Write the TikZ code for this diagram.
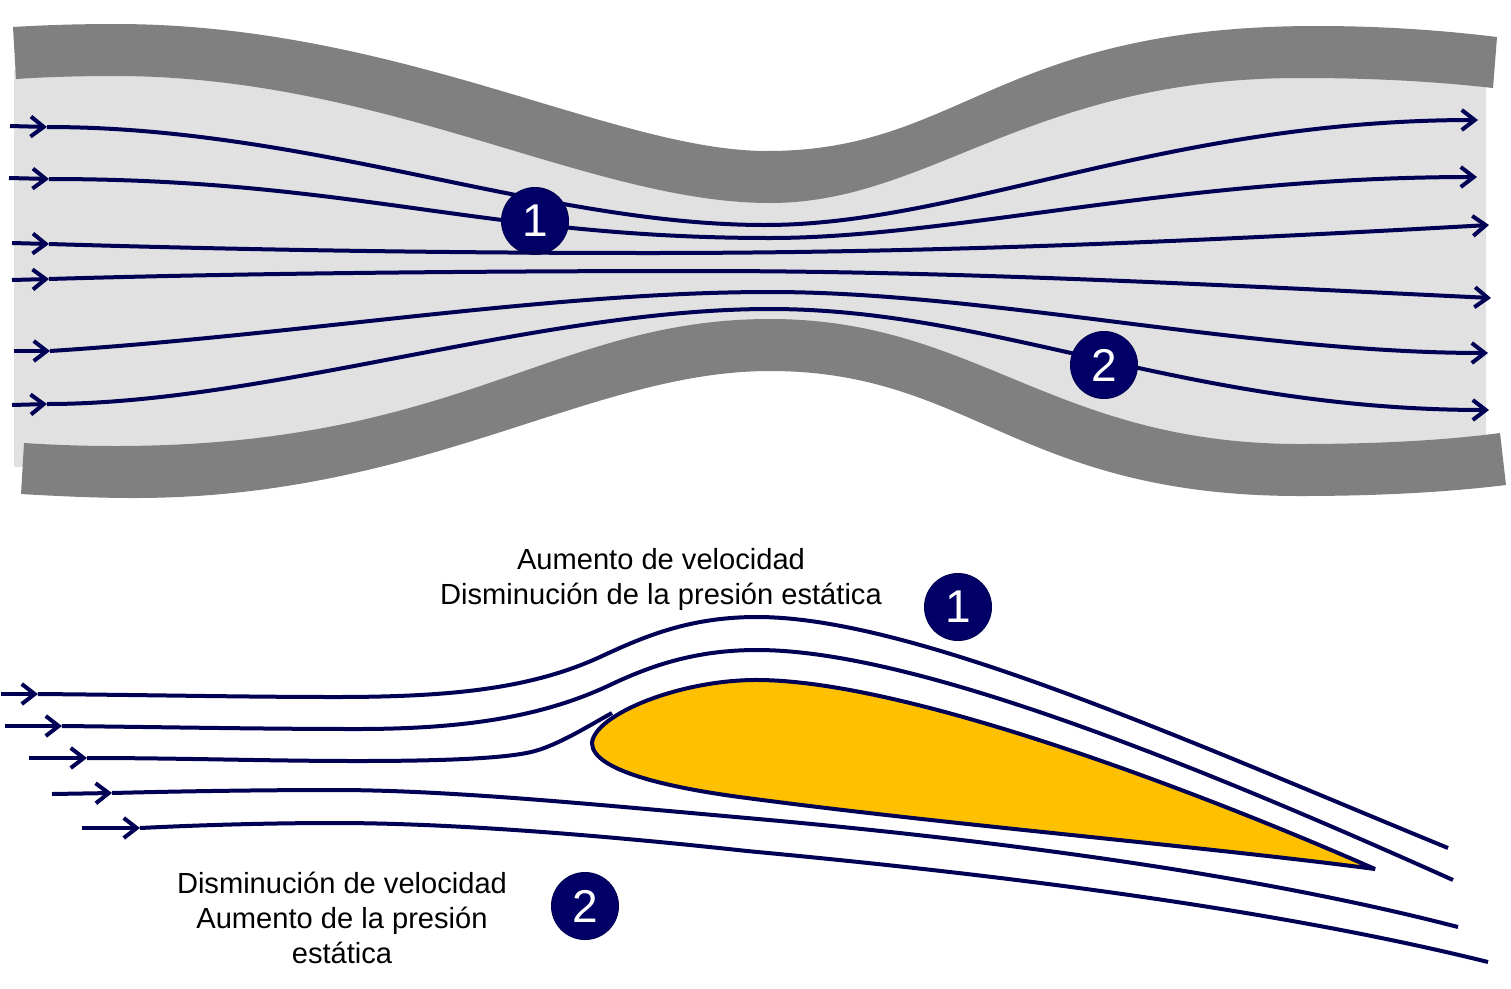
\documentclass[tikz,border=0pt]{standalone}
\usepackage{fontspec}
\setmainfont{Liberation Sans}
\usetikzlibrary{arrows.meta}
\definecolor{flowc}{RGB}{0,0,84}
\definecolor{badge}{RGB}{0,0,102}
\definecolor{wallc}{RGB}{128,128,128}
\definecolor{ductc}{RGB}{225,225,225}
\definecolor{foilc}{RGB}{255,192,0}
\tikzset{
  flow/.style={draw=flowc,line width=4pt,line join=round},
  flowin/.style={flow,-{Straight Barb[length=13pt,width=20pt,line width=4pt]}},
  flowout/.style={flowin},
  badgenode/.style={circle,minimum size=67pt,inner sep=0pt,fill=badge,draw=flowc,line width=1pt,text=white,font=\fontsize{46}{46}\selectfont},
  caption/.style={align=center,text=black,font=\fontsize{29.1}{35}\selectfont},
  wall/.style={fill=wallc},
}
\begin{document}
\begin{tikzpicture}[x=1pt,y=-1pt]
\useasboundingbox (0,0) rectangle (1511,988);
% duct
\fill[ductc] (14,70) -- (115,60) .. controls (385,60) and (590,187) .. (770,187) .. controls (930,187) and (1030,62) .. (1300,62) -- (1486,70) -- (1486,450) -- (1300,460) .. controls (1053,460) and (976,335) .. (770,335) .. controls (553,335) and (461,460) .. (115,460) -- (30,460) -- (30,467) -- (14,467) -- cycle;
% walls
\fill[wall] (13,27) .. controls (45,25) and (80,24) .. (115,24) .. controls (398,24) and (614,151) .. (767,151) .. controls (962,151) and (997,26) .. (1317,26) .. controls (1380,26) and (1440,30) .. (1497,37)
 -- (1493,88) .. controls (1430,81) and (1370,78) .. (1300,78) .. controls (1030,78) and (930,203) .. (770,203) .. controls (590,203) and (385,76) .. (115,76) .. controls (80,76) and (45,77) .. (16,79) -- cycle;
\fill[wall] (24,443) .. controls (55,445) and (85,446) .. (115,446) .. controls (461,446) and (553,319) .. (770,319) .. controls (976,319) and (1053,444) .. (1300,444) .. controls (1370,444) and (1440,441) .. (1500,433)
 -- (1506,485) .. controls (1440,493) and (1370,496) .. (1300,496) .. controls (1019,496) and (971,371) .. (770,371) .. controls (589,371) and (424,498) .. (134,498) .. controls (95,498) and (55,496) .. (21,494) -- cycle;
% named ends
\coordinate (u1s) at (10,126); \coordinate (u1a) at (47,127); \coordinate (u1e) at (1478,120);
\coordinate (u2s) at (9,178); \coordinate (u2a) at (49,179); \coordinate (u2e) at (1477,177);
\coordinate (u3s) at (12,243); \coordinate (u3a) at (49,244); \coordinate (u3e) at (1489,225);
\coordinate (u4s) at (12,280); \coordinate (u4a) at (49,279); \coordinate (u4e) at (1491,298);
\coordinate (u5s) at (14,351); \coordinate (u5a) at (50,351); \coordinate (u5e) at (1488,353);
\coordinate (u6s) at (12,405); \coordinate (u6a) at (47,404); \coordinate (u6e) at (1489,410);
% streamlines behind badge 1
\draw[flowin] (u1s) -- (u1a);
\draw[flowout] (u1a) .. controls (312,127) and (544,225) .. (765,225) .. controls (960,225) and (1165,120) .. (u1e);
\draw[flowin] (u2s) -- (u2a);
\draw[flowout] (u2a) .. controls (353,179) and (485,238) .. (770,238) .. controls (952,238) and (1176,177) .. (u2e);
\node[badgenode] (b1) at (535,221) {1};
\draw[flowin] (u3s) -- (u3a);
\draw[flowout] (u3a) .. controls (250,250) and (450,253) .. (650,253) .. controls (900,253) and (1150,244) .. (u3e);
\draw[flowin] (u4s) -- (u4a);
\draw[flowout] (u4a) .. controls (250,273) and (500,271) .. (700,271) .. controls (950,271) and (1200,284) .. (u4e);
\draw[flowin] (u5s) -- (u5a);
\draw[flowout] (u5a) .. controls (300,335) and (550,292) .. (770,292) .. controls (989,292) and (1249,353) .. (u5e);
\draw[flowin] (u6s) -- (u6a);
\draw[flowout] (u6a) .. controls (267,404) and (538,309) .. (770,309) .. controls (996,309) and (1186,410) .. (u6e);
\node[badgenode] (b2) at (1104,365) {2};
% lower part
\node[caption] (t1) at (661,579) {Aumento de velocidad\\Disminución de la presión estática};
\node[badgenode] (b3) at (958,607) {1};
\node[caption] (t2) at (342,918) {Disminución de velocidad\\Aumento de la presión\\estática};
\node[badgenode] (b4) at (585,906) {2};
\coordinate (a1s) at (1,694); \coordinate (a1a) at (38,694); \coordinate (a1e) at (1448,848);
\coordinate (a2s) at (5,726); \coordinate (a2a) at (62,726); \coordinate (a2e) at (1453,880);
\coordinate (a3s) at (29,758); \coordinate (a3a) at (87,758); \coordinate (a3e) at (612,713);
\coordinate (a4s) at (52,794); \coordinate (a4a) at (112,793); \coordinate (a4e) at (1458,927);
\coordinate (a5s) at (82,828); \coordinate (a5a) at (140,828); \coordinate (a5e) at (1488,962);
\draw[flowin] (a1s) -- (a1a);
\draw[flow] (a1a) .. controls (150,695) and (250,697) .. (335,697) .. controls (450,697) and (530,689) .. (600,657) .. controls (645,636) and (690,617) .. (757,617) .. controls (913,617) and (1185,740) .. (a1e);
\draw[flowin] (a2s) -- (a2a);
\draw[flow] (a2a) .. controls (160,727) and (260,729) .. (357,729) .. controls (460,729) and (540,718) .. (610,685) .. controls (650,666) and (695,650) .. (757,650) .. controls (913,650) and (1190,762) .. (a2e);
\draw[flowin] (a3s) -- (a3a);
\draw[flow] (a3a) .. controls (180,758) and (270,761) .. (357,761) .. controls (450,761) and (510,758) .. (535,751) .. controls (560,744) and (590,725) .. (a3e);
\draw[flowin] (a4s) -- (a4a);
\draw[flow] (a4a) .. controls (190,791) and (270,790) .. (335,790) .. controls (450,790) and (600,805) .. (747,818) .. controls (950,836) and (1230,868) .. (a4e);
\draw[flowin] (a5s) -- (a5a);
\draw[flow] (a5a) .. controls (200,825) and (270,823) .. (335,823) .. controls (450,823) and (600,835) .. (747,851) .. controls (950,870) and (1250,903) .. (a5e);
% airfoil
\path[flow,fill=foilc,line join=miter,miter limit=4] (1375,869) .. controls (1230,805) and (920,682) .. (760,680) .. controls (680,679) and (594,715) .. (592,743) .. controls (592,772) and (677,789) .. (747,798) .. controls (950,825) and (1200,846) .. (1375,869) -- cycle;
\end{tikzpicture}
\end{document}
